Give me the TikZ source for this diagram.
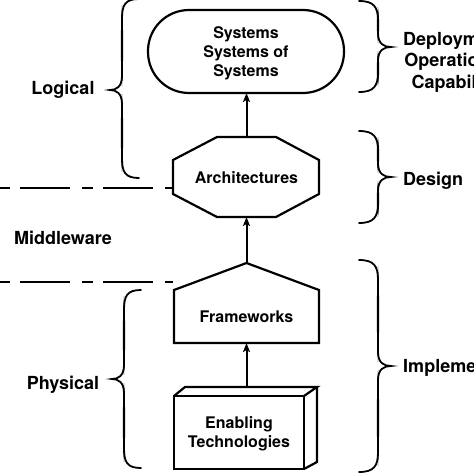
\documentclass[tikz,border=0pt]{standalone}
\usepackage{fontspec}
\setmainfont{TeX Gyre Heros}
\usetikzlibrary{arrows.meta}
\newcommand\mylens[3]{% x, ya, yb : tapered thickening of a brace spine
 \fill ({#1},{#2}) .. controls ({#1-1.6},{#2+(#3-#2)/3}) and ({#1-1.6},{#3-(#3-#2)/3}) .. ({#1},{#3}) .. controls ({#1+1.6},{#3-(#3-#2)/3}) and ({#1+1.6},{#2+(#3-#2)/3}) .. cycle;}
\newcommand\mybraceL[4]{%
 \draw[bracepath] ({#1+17},#2) .. controls ({#1+3},#2) and (#1,{#2+6}) .. (#1,{#2+20}) -- (#1,{#4-14}) .. controls (#1,{#4-3}) and ({#1-6},#4) .. ({#1-12},#4) .. controls ({#1-6},#4) and (#1,{#4+3}) .. (#1,{#4+14}) -- (#1,{#3-20}) .. controls (#1,{#3-6}) and ({#1+3},#3) .. ({#1+17},#3);
 \mylens{#1}{#2+6}{#4-4}\mylens{#1}{#4+4}{#3-6}}
\newcommand\mybraceR[4]{%
 \draw[bracepath] ({#1-19},#2) .. controls ({#1-4},#2) and (#1,{#2+6}) .. (#1,{#2+20}) -- (#1,{#4-14}) .. controls (#1,{#4-3}) and ({#1+6},#4) .. ({#1+13},#4) .. controls ({#1+6},#4) and (#1,{#4+3}) .. (#1,{#4+14}) -- (#1,{#3-20}) .. controls (#1,{#3-6}) and ({#1-4},#3) .. ({#1-19},#3);
 \mylens{#1}{#2+6}{#4-4}\mylens{#1}{#4+4}{#3-6}}
\begin{document}
\begin{tikzpicture}[x=1pt,y=-1pt,
 shapeline/.style={line width=2.2pt, line join=miter},
 conn/.style={line width=2pt, -{Stealth[length=9pt,width=7pt,inset=2pt]}},
 boxtext/.style={font=\fontsize{16}{19}\selectfont\bfseries, align=center, inner sep=0pt},
 sidetext/.style={font=\fontsize{18}{21.5}\selectfont\bfseries, align=center, inner sep=0pt},
 bracepath/.style={line width=1.8pt, line cap=round},
 sepline/.style={line width=2pt, dash pattern=on 50pt off 12pt on 11pt off 10pt}
]
\useasboundingbox (0,0) rectangle (474,474);
\clip (0,0) rectangle (474,474);
\fill[white] (0,0) rectangle (474,474);

% Systems (stadium)
\draw[shapeline, rounded corners=41pt] (148,10) rectangle (344,93);
\node[boxtext] (sys) at (246,53) {Systems\\Systems of\\Systems};
\coordinate (sysS) at (246.5,93);

% Architectures (octagon)
\draw[shapeline] (217,137) -- (276,137) -- (319,160) -- (319,194) -- (276,217) -- (217,217) -- (173,194) -- (173,160) -- cycle;
\node[boxtext] (arch) at (246.5,178) {Architectures};
\coordinate (archN) at (246.5,137);
\coordinate (archS) at (246.5,217);

% Frameworks (pentagon)
\draw[shapeline] (246.5,263) -- (319,290) -- (319,343) -- (174,343) -- (174,290) -- cycle;
\node[boxtext] (fw) at (246.5,317) {Frameworks};
\coordinate (fwN) at (246.5,263);
\coordinate (fwS) at (246.5,343);

% Enabling Technologies (3D box)
\draw[shapeline] (174,396) rectangle (304,469);
\draw[shapeline] (174,396) -- (185,387) -- (317,387) -- (304,396);
\draw[shapeline] (317,387) -- (317,462) -- (304,469);
\node[boxtext] (en) at (239,433.5) {Enabling\\Technologies};
\coordinate (enN) at (246.5,387);

% connectors
\draw[conn] (enN) -- (fwS);
\draw[conn] (fwN) -- (archS);
\draw[conn] (archN) -- (sysS);

% separator lines
\coordinate (s1a) at (-63,188);
\coordinate (s1b) at (173,188);
\coordinate (s2a) at (-63,282);
\coordinate (s2b) at (173,282);
\draw[sepline] (s1a) -- (s1b);
\draw[sepline] (s2a) -- (s2b);

% left braces and labels
\mybraceL{122}{-1}{178}{90}
\mybraceL{124}{290}{468}{379}
\node[sidetext] (logical) at (63,90) {Logical};
\node[sidetext] (middleware) at (63,238) {Middleware};
\node[sidetext] (physical) at (63,385) {Physical};

% right braces and labels
\mybraceR{378}{1}{92}{47}
\mybraceR{378}{131}{223}{177}
\mybraceR{378}{260}{472}{366}
\node[sidetext, anchor=west] (deploy) at (403,62) {Deployment\\Operational\\Capability};
\node[sidetext, anchor=west] (design) at (403,181) {Design};
\node[sidetext, anchor=west] (impl) at (403,368) {Implementation};
\end{tikzpicture}
\end{document}
